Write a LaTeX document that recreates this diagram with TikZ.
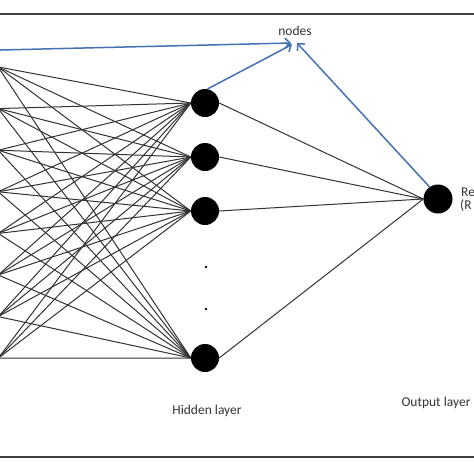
\documentclass[tikz,border=0pt]{standalone}
\usepackage{fontspec}
\setmainfont{Carlito}
\usetikzlibrary{arrows,arrows.meta}
\definecolor{arrowblue}{RGB}{68,114,178}
\tikzset{
  neuron/.style={circle,fill=black,inner sep=0pt,minimum size=28pt},
  link/.style={black!80,line width=1pt},
  bluelink/.style={arrowblue,line width=1.5pt,-{Straight Barb[length=5pt,width=10pt]}},
  lab/.style={text=black!80,inner sep=0pt,font=\fontsize{13.5}{15}\selectfont},
}
\begin{document}
\begin{tikzpicture}[x=1pt,y=-1pt]
\useasboundingbox[fill=white] (0,0) rectangle (474,474);
\draw[black!75,line width=1.4pt] (-10,14) -- (484,14);
\draw[black!75,line width=1.4pt] (-10,457) -- (484,457);
\foreach \i in {1,...,8}
  \node[neuron] (in\i) at (-16,{67+41.6*(\i-1)}) {};
\foreach \j/\y in {1/103,2/157,3/211,4/358}
  \node[neuron] (h\j) at (205,\y) {};
\node[neuron,minimum size=29pt] (out) at (438,199) {};
\foreach \i in {1,...,8}
  \foreach \j in {1,...,4}
    \draw[link] (in\i.east) -- (h\j.west);
\foreach \j in {1,...,4}
  \draw[link] (h\j.east) -- (out.west);
\foreach \y in {267,309}
  \fill (206,\y) circle (1.4pt);
\node[lab] (lbl) at (295,31) {nodes};
\coordinate (meet) at (294,43);
\coordinate (src) at (-20,50.5);
\draw[bluelink] (src) -- ([xshift=-3pt]meet);
\draw[bluelink] (h1.80) -- ([xshift=-2pt,yshift=-1.5pt]meet);
\draw[bluelink] (out.125) -- ([xshift=3pt]meet);
\node[lab] (hidlbl) at (207,411) {Hidden layer};
\node[lab] (outlbl) at (436,403) {Output layer};
\node[lab,anchor=west] (res1) at (461,192) {Re};
\node[lab,anchor=west] (res2) at (460,205) {(R};
\end{tikzpicture}
\end{document}
